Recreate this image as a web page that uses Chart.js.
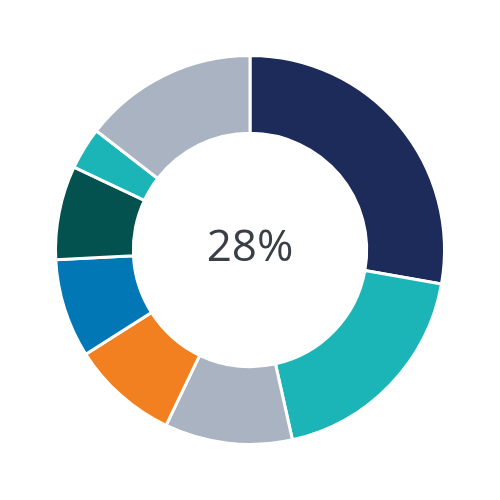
<!DOCTYPE html>
<html>
<head>
<meta charset="utf-8">
<script src="https://cdn.jsdelivr.net/npm/chart.js@4"></script>
<style>
  html, body { margin: 0; padding: 0; background: #fff; }
  #wrap { width: 500px; height: 500px; }
</style>
</head>
<body>
<div id="wrap"><canvas id="donut"></canvas></div>
<script>
// slices clockwise from 12 o'clock
const labels = ['A', 'B', 'C', 'D', 'E', 'F', 'G', 'H']
const shares = [27.8, 18.7, 10.6, 8.9, 8.2, 7.8, 3.5, 14.5]
const colors = ['#1c2b59', '#1bb5b8', '#a9b3c1', '#f28020', '#0277b5', '#04524f', '#1bb5b8', '#a9b3c1']
const centerText = '28%'

const centerLabel = {
    id: 'centerLabel',
    afterDraw(chart) {
        const ctx = chart.ctx
        const meta = chart.getDatasetMeta(0).data[0]
        ctx.save()
        ctx.font = '400 44px "Open Sans", "Noto Sans", sans-serif'
        ctx.fillStyle = '#393f46'
        ctx.textAlign = 'center'
        ctx.textBaseline = 'middle'
        ctx.fillText(centerText, meta.x, meta.y - 2)
        ctx.restore()
    },
}

const donutConfig = {
    type: 'doughnut',
    data: {
        labels: labels,
        datasets: [
            {
                data: shares,
                backgroundColor: colors,
                borderColor: '#ffffff',
                borderWidth: 3,
            },
        ],
    },
    options: {
        responsive: true,
        maintainAspectRatio: false,
        animation: false,
        cutout: '60%',
        layout: { padding: 54 },
        plugins: {
            legend: { display: false },
            tooltip: { enabled: false },
        },
    },
    plugins: [centerLabel],
}

const donutCtx = document.getElementById('donut')
window.myDonut = new Chart(donutCtx, donutConfig)
</script>
</body>
</html>
